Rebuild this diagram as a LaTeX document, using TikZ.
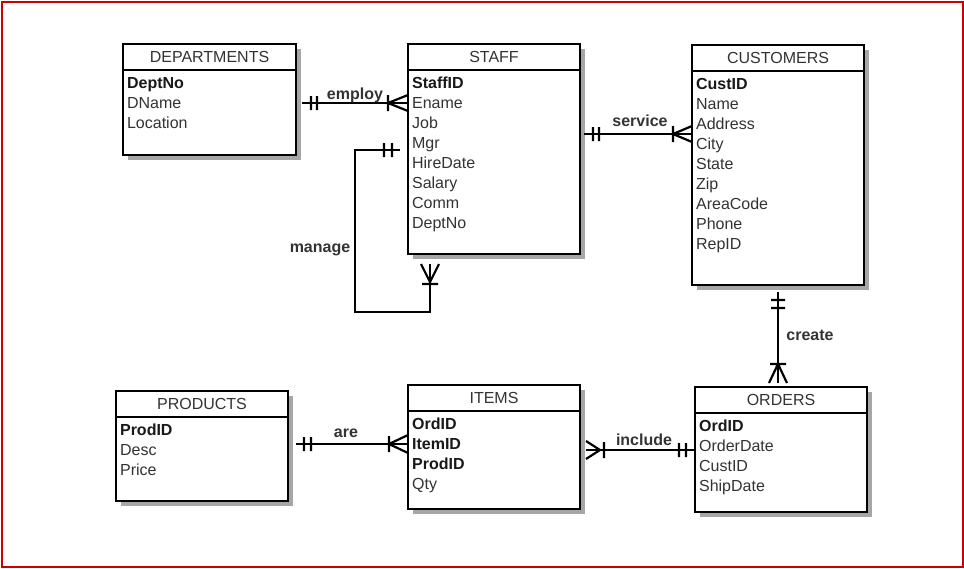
\documentclass[tikz,border=0pt]{standalone}
\usepackage{fontspec}
\setmainfont{Liberation Sans}
\begin{document}
\begin{tikzpicture}[x=1pt,y=-1pt,line width=2.2pt,
  hdr/.style={font=\fontsize{16}{17}\selectfont,text=black!80},
  fld/.style={anchor=base west,yshift=-5.5pt,font=\fontsize{16}{17}\selectfont,text=black!80,inner sep=0pt},
  key/.style={fld,font=\fontsize{16}{17}\selectfont\bfseries,text=black!90},
  lbl/.style={font=\fontsize{16}{17}\selectfont\bfseries,text=black!80,inner sep=1pt}]
\useasboundingbox (0,0) rectangle (964,568);
\draw[red!80!black,line width=2pt] (1.5,1.5) rectangle (962.5,566.5);
\newcommand{\tbl}[7]{%
  \fill[black!35] (#2+5,#3+5) rectangle (#4+5,#5+5);
  \node[draw,fill=white,line width=2.2pt,minimum width=#4-#2,minimum height=#5-#3,inner sep=0pt] (#1) at ({(#2+#4)/2},{(#3+#5)/2}) {};
  \draw (#2,#6) -- (#4,#6);
  \node[hdr] (#1-t) at ({(#2+#4)/2},{(#3+#6)/2}) {#7};}
\tbl{dept}{123}{44}{296}{155}{70}{DEPARTMENTS}
\tbl{staff}{408}{44}{580}{254}{70}{STAFF}
\tbl{cust}{692}{45}{864}{285}{71}{CUSTOMERS}
\tbl{prod}{116}{391}{288}{501}{417}{PRODUCTS}
\tbl{items}{408}{385}{580}{509}{411}{ITEMS}
\tbl{ord}{695}{387}{867}{512}{413}{ORDERS}
\newcommand{\rows}[3]{\foreach \t [count=\i from 0] in {#3} {\node[fld] at (#1,#2+\i*20) {\t};}}
\node[key] at (126,83) {DeptNo}; \rows{126}{103}{DName,Location}
\node[key] at (411,83) {StaffID}; \rows{411}{103}{Ename,Job,Mgr,HireDate,Salary,Comm,DeptNo}
\node[key] at (695,84) {CustID}; \rows{695}{104}{Name,Address,City,State,Zip,AreaCode,Phone,RepID}
\node[key] at (119,430) {ProdID}; \rows{119}{450}{Desc,Price}
\node[key] at (411,424) {OrdID}; \node[key] at (411,444) {ItemID}; \node[key] at (411,464) {ProdID}; \rows{411}{484}{Qty}
\node[key] at (698,426) {OrdID}; \rows{698}{446}{OrderDate,CustID,ShipDate}
% employ
\coordinate (e1) at (302,103); \coordinate (e2) at (408,103);
\draw (e1) -- (e2);
\draw (311,96)--(311,110) (317,96)--(317,110) (388,95)--(388,111) (388,103)--(408,95) (388,103)--(408,111);
\node[lbl] at (355,95) {employ};
% service
\coordinate (s1) at (584,134); \coordinate (s2) at (692,134);
\draw (s1) -- (s2);
\draw (593,127)--(593,141) (599,127)--(599,141) (673,126)--(673,142) (673,134)--(692,126) (673,134)--(692,142);
\node[lbl] at (640,121) {service};
% manage
\coordinate (m1) at (400,150); \coordinate (m2) at (430,264);
\draw (m1) -- (355,150) -- (355,312) -- (430,312) -- (m2);
\draw (384,143)--(384,157) (392,143)--(392,157) (422,284)--(438,284) (430,282)--(421,264) (430,282)--(439,264);
\node[lbl] at (320,250) {manage};
% create
\coordinate (c1) at (778,292); \coordinate (c2) at (778,383);
\draw (c1) -- (c2);
\draw (771,300)--(785,300) (771,308)--(785,308) (770,364)--(786,364) (778,364)--(769,383) (778,364)--(787,383);
\node[lbl] at (810,335) {create};
% are
\coordinate (a1) at (296,444); \coordinate (a2) at (408,444);
\draw (a1) -- (a2);
\draw (304,437)--(304,451) (311,437)--(311,451) (389,436)--(389,452) (389,444)--(408,435) (389,444)--(408,453);
\node[lbl] at (346,433) {are};
% include
\coordinate (i1) at (586,450); \coordinate (i2) at (695,450);
\draw (i1) -- (i2);
\draw (586,441)--(600,450)--(586,459) (604,442)--(604,458) (679,443)--(679,457) (686,443)--(686,457);
\node[lbl] at (644,440) {include};
\end{tikzpicture}
\end{document}
